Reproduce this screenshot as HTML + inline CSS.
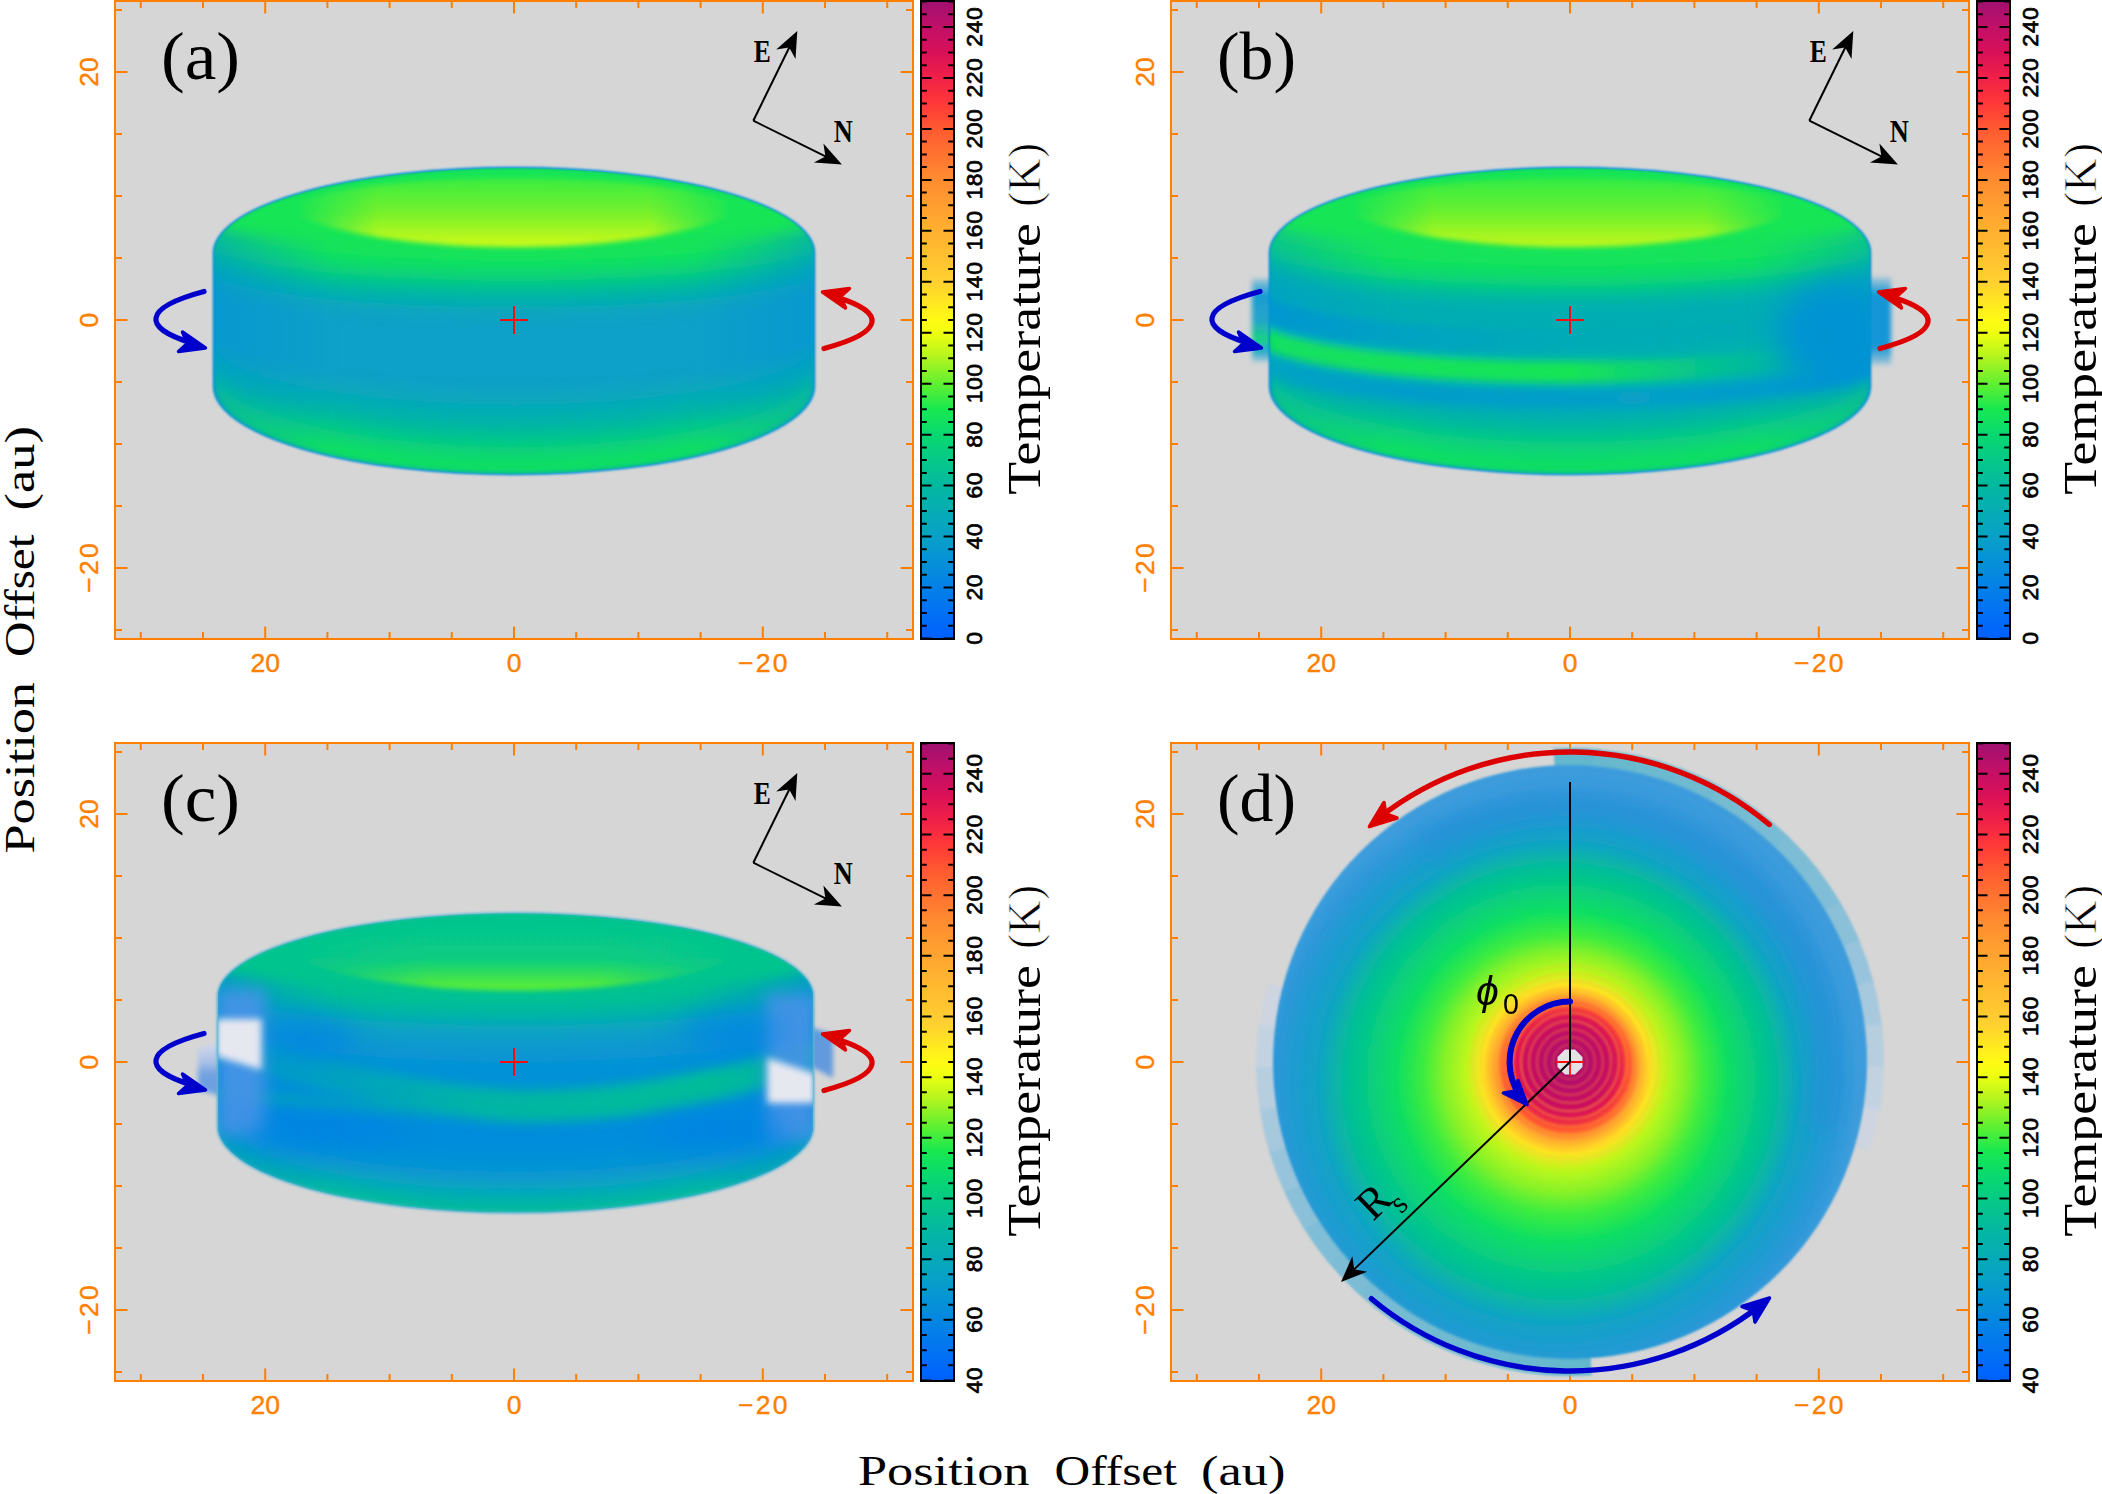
<!DOCTYPE html>
<html><head><meta charset="utf-8"><title>Temperature maps</title>
<style>
html,body{margin:0;padding:0;background:#fff;width:2102px;height:1494px;overflow:hidden;}
svg{display:block;}
text{font-family:"Liberation Sans",sans-serif;}
.tk{font-size:26.5px;fill:#FF7F00;stroke:#FF7F00;stroke-width:0.4px;}
.cb{font-size:22.8px;fill:#000;stroke:#000;stroke-width:0.7px;}
.lab{font-family:"Liberation Serif",serif;font-size:41.5px;fill:#000;}
.thin{stroke:#fff;stroke-width:0.8px;}
.pl{font-family:"Liberation Serif",serif;font-size:67px;fill:#000;}
.lab2{font-family:"Liberation Serif",serif;font-size:45.5px;fill:#000;}
.en{font-family:"Liberation Serif",serif;font-weight:bold;font-size:32px;fill:#000;}
</style></head>
<body>
<svg width="2102" height="1494" viewBox="0 0 2102 1494">
<defs>
<linearGradient id="cbg" x1="0" y1="1" x2="0" y2="0"><stop offset="0.000" stop-color="#0060FF"/><stop offset="0.080" stop-color="#0480E8"/><stop offset="0.160" stop-color="#08A0C8"/><stop offset="0.240" stop-color="#04B8A0"/><stop offset="0.320" stop-color="#08D870"/><stop offset="0.360" stop-color="#18E850"/><stop offset="0.400" stop-color="#60F030"/><stop offset="0.440" stop-color="#B0F420"/><stop offset="0.480" stop-color="#F0FF10"/><stop offset="0.500" stop-color="#FFFA14"/><stop offset="0.560" stop-color="#FFD030"/><stop offset="0.640" stop-color="#FFB030"/><stop offset="0.720" stop-color="#FF8C30"/><stop offset="0.800" stop-color="#FF5A30"/><stop offset="0.840" stop-color="#FF3838"/><stop offset="0.880" stop-color="#F02048"/><stop offset="0.920" stop-color="#D81058"/><stop offset="0.960" stop-color="#C01068"/><stop offset="1.000" stop-color="#A01070"/></linearGradient>
<filter id="b1" filterUnits="userSpaceOnUse" x="-450" y="-360" width="900" height="720"><feGaussianBlur stdDeviation="1.2"/></filter>
<filter id="b2" filterUnits="userSpaceOnUse" x="-450" y="-360" width="900" height="720"><feGaussianBlur stdDeviation="2.5"/></filter>
<filter id="b4" filterUnits="userSpaceOnUse" x="-450" y="-360" width="900" height="720"><feGaussianBlur stdDeviation="4"/></filter>
<filter id="b6" filterUnits="userSpaceOnUse" x="-450" y="-360" width="900" height="720"><feGaussianBlur stdDeviation="6"/></filter>
<filter id="b8" filterUnits="userSpaceOnUse" x="-450" y="-360" width="900" height="720"><feGaussianBlur stdDeviation="8"/></filter>
<filter id="b14" filterUnits="userSpaceOnUse" x="-450" y="-360" width="900" height="720"><feGaussianBlur stdDeviation="14"/></filter>
<filter id="b20" filterUnits="userSpaceOnUse" x="-450" y="-360" width="900" height="720"><feGaussianBlur stdDeviation="20"/></filter>
<clipPath id="tclip"><path d="M-300,-67A300,85 0 0 1 300,-67L300,66A300,88 0 0 1 -300,66Z"/></clipPath>
<linearGradient id="ha" x1="0" y1="-140" x2="0" y2="-73" gradientUnits="userSpaceOnUse"><stop offset="0.0000" stop-color="#3CEC40"/><stop offset="0.5000" stop-color="#78F12B"/><stop offset="1.0000" stop-color="#D0FA18"/></linearGradient>
<linearGradient id="hsa" x1="-213" y1="0" x2="213" y2="0" gradientUnits="userSpaceOnUse"><stop offset="0.0000" stop-color="#15E556" stop-opacity="0.9"/><stop offset="0.1800" stop-color="#15E556" stop-opacity="0.0"/><stop offset="0.8200" stop-color="#15E556" stop-opacity="0.0"/><stop offset="1.0000" stop-color="#15E556" stop-opacity="0.9"/></linearGradient>
<linearGradient id="sda" x1="-300" y1="0" x2="300" y2="0" gradientUnits="userSpaceOnUse"><stop offset="0.0000" stop-color="#0690D8" stop-opacity="0.45"/><stop offset="0.1000" stop-color="#0690D8" stop-opacity="0.225"/><stop offset="0.2000" stop-color="#0690D8" stop-opacity="0"/><stop offset="0.8000" stop-color="#0690D8" stop-opacity="0"/><stop offset="0.9000" stop-color="#0690D8" stop-opacity="0.225"/><stop offset="1.0000" stop-color="#0690D8" stop-opacity="0.45"/></linearGradient>
<linearGradient id="pbL" x1="0" y1="-41" x2="0" y2="42" gradientUnits="userSpaceOnUse"><stop offset="0.0000" stop-color="#0796D2" stop-opacity="0.3"/><stop offset="0.2000" stop-color="#0796D2" stop-opacity="0.9"/><stop offset="0.5000" stop-color="#08A0C8" stop-opacity="0.9"/><stop offset="0.7200" stop-color="#07D27A" stop-opacity="0.9"/><stop offset="0.8800" stop-color="#08A0C8" stop-opacity="0.8"/><stop offset="1.0000" stop-color="#079ACE" stop-opacity="0.2"/></linearGradient>
<linearGradient id="pbR" x1="0" y1="-43" x2="0" y2="45" gradientUnits="userSpaceOnUse"><stop offset="0.0000" stop-color="#0690D8" stop-opacity="0.2"/><stop offset="0.2000" stop-color="#0690D8" stop-opacity="0.9"/><stop offset="0.8000" stop-color="#0690D8" stop-opacity="0.9"/><stop offset="1.0000" stop-color="#0690D8" stop-opacity="0.2"/></linearGradient>
<linearGradient id="hb" x1="0" y1="-140" x2="0" y2="-73" gradientUnits="userSpaceOnUse"><stop offset="0.0000" stop-color="#35EB43"/><stop offset="0.5000" stop-color="#6DF12D"/><stop offset="1.0000" stop-color="#C3F71B"/></linearGradient>
<linearGradient id="hsb" x1="-213" y1="0" x2="213" y2="0" gradientUnits="userSpaceOnUse"><stop offset="0.0000" stop-color="#15E556" stop-opacity="0.9"/><stop offset="0.1800" stop-color="#15E556" stop-opacity="0.0"/><stop offset="0.8200" stop-color="#15E556" stop-opacity="0.0"/><stop offset="1.0000" stop-color="#15E556" stop-opacity="0.9"/></linearGradient>
<linearGradient id="sdb" x1="-300" y1="0" x2="300" y2="0" gradientUnits="userSpaceOnUse"><stop offset="0.0000" stop-color="#0693D5" stop-opacity="0.35"/><stop offset="0.1000" stop-color="#0693D5" stop-opacity="0.175"/><stop offset="0.2000" stop-color="#0693D5" stop-opacity="0"/><stop offset="0.8000" stop-color="#0693D5" stop-opacity="0"/><stop offset="0.9000" stop-color="#0693D5" stop-opacity="0.175"/><stop offset="1.0000" stop-color="#0693D5" stop-opacity="0.35"/></linearGradient>
<linearGradient id="gb" x1="-322" y1="0" x2="322" y2="0" gradientUnits="userSpaceOnUse"><stop offset="0.0000" stop-color="#12E25D" stop-opacity="0.95"/><stop offset="0.5000" stop-color="#18E850" stop-opacity="0.95"/><stop offset="0.6200" stop-color="#12E25D" stop-opacity="0.7"/><stop offset="0.7500" stop-color="#08D575" stop-opacity="0.4"/><stop offset="0.8800" stop-color="#06C888" stop-opacity="0.0"/><stop offset="1.0000" stop-color="#06C888" stop-opacity="0"/></linearGradient>
<linearGradient id="bb" x1="-322" y1="0" x2="322" y2="0" gradientUnits="userSpaceOnUse"><stop offset="0.0000" stop-color="#08A0C8" stop-opacity="0.55"/><stop offset="0.2500" stop-color="#079ACE" stop-opacity="0.85"/><stop offset="0.6000" stop-color="#089DCB" stop-opacity="0.85"/><stop offset="1.0000" stop-color="#0693D5" stop-opacity="0.8"/></linearGradient>
<linearGradient id="ub" x1="-322" y1="0" x2="322" y2="0" gradientUnits="userSpaceOnUse"><stop offset="0.0000" stop-color="#0690D8" stop-opacity="0.75"/><stop offset="0.3000" stop-color="#089DCB" stop-opacity="0.55"/><stop offset="0.5500" stop-color="#07A5C0" stop-opacity="0.2"/><stop offset="1.0000" stop-color="#08A0C8" stop-opacity="0"/></linearGradient>
<linearGradient id="pcL" x1="0" y1="-20" x2="0" y2="34" gradientUnits="userSpaceOnUse"><stop offset="0.0000" stop-color="#D2DAEE"/><stop offset="0.3500" stop-color="#A8C0EA"/><stop offset="0.6000" stop-color="#5E98E4"/><stop offset="1.0000" stop-color="#5A96E4"/></linearGradient>
<linearGradient id="hc" x1="0" y1="-140" x2="0" y2="-73" gradientUnits="userSpaceOnUse"><stop offset="0.0000" stop-color="#06C58D"/><stop offset="0.5000" stop-color="#07CC82"/><stop offset="1.0000" stop-color="#60F030"/></linearGradient>
<linearGradient id="hsc" x1="-213" y1="0" x2="213" y2="0" gradientUnits="userSpaceOnUse"><stop offset="0.0000" stop-color="#06C58D" stop-opacity="0.9"/><stop offset="0.3000" stop-color="#06C58D" stop-opacity="0.0"/><stop offset="0.7000" stop-color="#06C58D" stop-opacity="0.0"/><stop offset="1.0000" stop-color="#06C58D" stop-opacity="0.9"/></linearGradient>
<linearGradient id="sdc" x1="-300" y1="0" x2="300" y2="0" gradientUnits="userSpaceOnUse"><stop offset="0.0000" stop-color="#0482E6" stop-opacity="0.5"/><stop offset="0.1000" stop-color="#0482E6" stop-opacity="0.25"/><stop offset="0.2000" stop-color="#0482E6" stop-opacity="0"/><stop offset="0.8000" stop-color="#0482E6" stop-opacity="0"/><stop offset="0.9000" stop-color="#0482E6" stop-opacity="0.25"/><stop offset="1.0000" stop-color="#0482E6" stop-opacity="0.5"/></linearGradient>
<linearGradient id="c1" x1="-322" y1="0" x2="322" y2="0" gradientUnits="userSpaceOnUse"><stop offset="0.0000" stop-color="#05B2AA" stop-opacity="0.25"/><stop offset="0.2500" stop-color="#05B5A6" stop-opacity="0.5"/><stop offset="0.4500" stop-color="#04B7A1" stop-opacity="0.95"/><stop offset="0.8000" stop-color="#05BD99" stop-opacity="1.0"/><stop offset="0.9200" stop-color="#04BB9B" stop-opacity="0.8"/><stop offset="1.0000" stop-color="#04B7A1" stop-opacity="0.5"/></linearGradient>
<linearGradient id="c2" x1="-322" y1="0" x2="322" y2="0" gradientUnits="userSpaceOnUse"><stop offset="0.0000" stop-color="#06A9B9" stop-opacity="0.0"/><stop offset="0.0600" stop-color="#06AFAF" stop-opacity="0.6"/><stop offset="0.3000" stop-color="#05B5A6" stop-opacity="0.6"/><stop offset="0.4200" stop-color="#05B5A6" stop-opacity="0.0"/><stop offset="1.0000" stop-color="#05B5A6" stop-opacity="0"/></linearGradient>
<radialGradient id="dg" gradientUnits="userSpaceOnUse" cx="-14" cy="26" r="300" fx="0" fy="0"><stop offset="0.0000" stop-color="#A8106E"/><stop offset="0.0400" stop-color="#AF106C"/><stop offset="0.1000" stop-color="#BE1068"/><stop offset="0.1400" stop-color="#CA1061"/><stop offset="0.1733" stop-color="#E11652"/><stop offset="0.2067" stop-color="#FF5232"/><stop offset="0.2400" stop-color="#FFA430"/><stop offset="0.2800" stop-color="#FFE324"/><stop offset="0.3333" stop-color="#BCF61D"/><stop offset="0.4000" stop-color="#86F228"/><stop offset="0.4667" stop-color="#3EEC3F"/><stop offset="0.5500" stop-color="#0FDF62"/><stop offset="0.6333" stop-color="#07CE7F"/><stop offset="0.7167" stop-color="#05BD99"/><stop offset="0.8000" stop-color="#10A4C4"/><stop offset="0.8733" stop-color="#1C9CD0"/><stop offset="0.9400" stop-color="#2C98D8"/><stop offset="1.0000" stop-color="#3C9CDC"/></radialGradient>
</defs>
<rect width="2102" height="1494" fill="#fff"/>
<rect x="115" y="1" width="798" height="638" fill="#D6D6D6"/>
<g id="vol_a"><!--VOL_a--></g>
<rect x="115" y="1" width="798" height="638" fill="none" stroke="#FF7F00" stroke-width="2"/>
<path d="M887.2,1v7M887.2,639v-7M825.0,1v7M825.0,639v-7M762.8,1v12.5M762.8,639v-12.5M700.6,1v7M700.6,639v-7M638.4,1v7M638.4,639v-7M576.2,1v7M576.2,639v-7M514.0,1v12.5M514.0,639v-12.5M451.8,1v7M451.8,639v-7M389.6,1v7M389.6,639v-7M327.4,1v7M327.4,639v-7M265.2,1v12.5M265.2,639v-12.5M203.0,1v7M203.0,639v-7M140.8,1v7M140.8,639v-7M115,630.0h7M913,630.0h-7M115,568.0h12.5M913,568.0h-12.5M115,506.0h7M913,506.0h-7M115,444.0h7M913,444.0h-7M115,382.0h7M913,382.0h-7M115,320.0h12.5M913,320.0h-12.5M115,258.0h7M913,258.0h-7M115,196.0h7M913,196.0h-7M115,134.0h7M913,134.0h-7M115,72.0h12.5M913,72.0h-12.5M115,10.0h7M913,10.0h-7" stroke="#FF7F00" stroke-width="2" fill="none"/>
<text x="265.2" y="671.5" class="tk" text-anchor="middle" textLength="29.5" lengthAdjust="spacing">20</text>
<text transform="translate(98,72.0) rotate(-90)" class="tk" text-anchor="middle" textLength="29.5" lengthAdjust="spacing">20</text>
<text x="514.0" y="671.5" class="tk" text-anchor="middle" textLength="14.7" lengthAdjust="spacing">0</text>
<text transform="translate(98,320.0) rotate(-90)" class="tk" text-anchor="middle" textLength="14.7" lengthAdjust="spacing">0</text>
<text x="762.8" y="671.5" class="tk" text-anchor="middle" textLength="49.5" lengthAdjust="spacing">−20</text>
<text transform="translate(98,568.0) rotate(-90)" class="tk" text-anchor="middle" textLength="49.5" lengthAdjust="spacing">−20</text>
<rect x="921" y="1" width="33" height="638" fill="url(#cbg)" stroke="#000" stroke-width="2"/>
<path d="M920,638.5h11.5M955,638.5h-11.5M920,625.8h6.8M955,625.8h-6.8M920,613.0h6.8M955,613.0h-6.8M920,600.3h6.8M955,600.3h-6.8M920,587.5h11.5M955,587.5h-11.5M920,574.8h6.8M955,574.8h-6.8M920,562.1h6.8M955,562.1h-6.8M920,549.3h6.8M955,549.3h-6.8M920,536.6h11.5M955,536.6h-11.5M920,523.8h6.8M955,523.8h-6.8M920,511.1h6.8M955,511.1h-6.8M920,498.4h6.8M955,498.4h-6.8M920,485.6h11.5M955,485.6h-11.5M920,472.9h6.8M955,472.9h-6.8M920,460.1h6.8M955,460.1h-6.8M920,447.4h6.8M955,447.4h-6.8M920,434.7h11.5M955,434.7h-11.5M920,421.9h6.8M955,421.9h-6.8M920,409.2h6.8M955,409.2h-6.8M920,396.4h6.8M955,396.4h-6.8M920,383.7h11.5M955,383.7h-11.5M920,371.0h6.8M955,371.0h-6.8M920,358.2h6.8M955,358.2h-6.8M920,345.5h6.8M955,345.5h-6.8M920,332.7h11.5M955,332.7h-11.5M920,320.0h6.8M955,320.0h-6.8M920,307.3h6.8M955,307.3h-6.8M920,294.5h6.8M955,294.5h-6.8M920,281.8h11.5M955,281.8h-11.5M920,269.0h6.8M955,269.0h-6.8M920,256.3h6.8M955,256.3h-6.8M920,243.6h6.8M955,243.6h-6.8M920,230.8h11.5M955,230.8h-11.5M920,218.1h6.8M955,218.1h-6.8M920,205.3h6.8M955,205.3h-6.8M920,192.6h6.8M955,192.6h-6.8M920,179.9h11.5M955,179.9h-11.5M920,167.1h6.8M955,167.1h-6.8M920,154.4h6.8M955,154.4h-6.8M920,141.6h6.8M955,141.6h-6.8M920,128.9h11.5M955,128.9h-11.5M920,116.2h6.8M955,116.2h-6.8M920,103.4h6.8M955,103.4h-6.8M920,90.7h6.8M955,90.7h-6.8M920,77.9h11.5M955,77.9h-11.5M920,65.2h6.8M955,65.2h-6.8M920,52.5h6.8M955,52.5h-6.8M920,39.7h6.8M955,39.7h-6.8M920,27.0h11.5M955,27.0h-11.5M920,14.2h6.8M955,14.2h-6.8M920,1.5h6.8M955,1.5h-6.8" stroke="#000" stroke-width="2" fill="none"/>
<text transform="translate(982,638.5) rotate(-90)" class="cb" text-anchor="middle" textLength="12.7" lengthAdjust="spacing">0</text>
<text transform="translate(982,587.5) rotate(-90)" class="cb" text-anchor="middle" textLength="26" lengthAdjust="spacing">20</text>
<text transform="translate(982,536.6) rotate(-90)" class="cb" text-anchor="middle" textLength="26" lengthAdjust="spacing">40</text>
<text transform="translate(982,485.6) rotate(-90)" class="cb" text-anchor="middle" textLength="26" lengthAdjust="spacing">60</text>
<text transform="translate(982,434.7) rotate(-90)" class="cb" text-anchor="middle" textLength="26" lengthAdjust="spacing">80</text>
<text transform="translate(982,383.7) rotate(-90)" class="cb" text-anchor="middle" textLength="39.3" lengthAdjust="spacing">100</text>
<text transform="translate(982,332.7) rotate(-90)" class="cb" text-anchor="middle" textLength="39.3" lengthAdjust="spacing">120</text>
<text transform="translate(982,281.8) rotate(-90)" class="cb" text-anchor="middle" textLength="39.3" lengthAdjust="spacing">140</text>
<text transform="translate(982,230.8) rotate(-90)" class="cb" text-anchor="middle" textLength="39.3" lengthAdjust="spacing">160</text>
<text transform="translate(982,179.9) rotate(-90)" class="cb" text-anchor="middle" textLength="39.3" lengthAdjust="spacing">180</text>
<text transform="translate(982,128.9) rotate(-90)" class="cb" text-anchor="middle" textLength="39.3" lengthAdjust="spacing">200</text>
<text transform="translate(982,77.9) rotate(-90)" class="cb" text-anchor="middle" textLength="39.3" lengthAdjust="spacing">220</text>
<text transform="translate(982,27.0) rotate(-90)" class="cb" text-anchor="middle" textLength="39.3" lengthAdjust="spacing">240</text>
<g transform="translate(1039.5,320) rotate(-90)"><text x="-174.8" y="0" class="lab2" textLength="271.8" lengthAdjust="spacingAndGlyphs">Temperature</text><text x="113" y="0" class="lab2 thin" textLength="64" lengthAdjust="spacingAndGlyphs">(K)</text></g>
<text x="161" y="78.5" class="pl" textLength="79" lengthAdjust="spacingAndGlyphs">(a)</text>
<rect x="1171" y="1" width="798" height="638" fill="#D6D6D6"/>
<g id="vol_b"><!--VOL_b--></g>
<rect x="1171" y="1" width="798" height="638" fill="none" stroke="#FF7F00" stroke-width="2"/>
<path d="M1943.2,1v7M1943.2,639v-7M1881.0,1v7M1881.0,639v-7M1818.8,1v12.5M1818.8,639v-12.5M1756.6,1v7M1756.6,639v-7M1694.4,1v7M1694.4,639v-7M1632.2,1v7M1632.2,639v-7M1570.0,1v12.5M1570.0,639v-12.5M1507.8,1v7M1507.8,639v-7M1445.6,1v7M1445.6,639v-7M1383.4,1v7M1383.4,639v-7M1321.2,1v12.5M1321.2,639v-12.5M1259.0,1v7M1259.0,639v-7M1196.8,1v7M1196.8,639v-7M1171,630.0h7M1969,630.0h-7M1171,568.0h12.5M1969,568.0h-12.5M1171,506.0h7M1969,506.0h-7M1171,444.0h7M1969,444.0h-7M1171,382.0h7M1969,382.0h-7M1171,320.0h12.5M1969,320.0h-12.5M1171,258.0h7M1969,258.0h-7M1171,196.0h7M1969,196.0h-7M1171,134.0h7M1969,134.0h-7M1171,72.0h12.5M1969,72.0h-12.5M1171,10.0h7M1969,10.0h-7" stroke="#FF7F00" stroke-width="2" fill="none"/>
<text x="1321.2" y="671.5" class="tk" text-anchor="middle" textLength="29.5" lengthAdjust="spacing">20</text>
<text transform="translate(1154,72.0) rotate(-90)" class="tk" text-anchor="middle" textLength="29.5" lengthAdjust="spacing">20</text>
<text x="1570.0" y="671.5" class="tk" text-anchor="middle" textLength="14.7" lengthAdjust="spacing">0</text>
<text transform="translate(1154,320.0) rotate(-90)" class="tk" text-anchor="middle" textLength="14.7" lengthAdjust="spacing">0</text>
<text x="1818.8" y="671.5" class="tk" text-anchor="middle" textLength="49.5" lengthAdjust="spacing">−20</text>
<text transform="translate(1154,568.0) rotate(-90)" class="tk" text-anchor="middle" textLength="49.5" lengthAdjust="spacing">−20</text>
<rect x="1977" y="1" width="33" height="638" fill="url(#cbg)" stroke="#000" stroke-width="2"/>
<path d="M1976,638.5h11.5M2011,638.5h-11.5M1976,625.8h6.8M2011,625.8h-6.8M1976,613.0h6.8M2011,613.0h-6.8M1976,600.3h6.8M2011,600.3h-6.8M1976,587.5h11.5M2011,587.5h-11.5M1976,574.8h6.8M2011,574.8h-6.8M1976,562.1h6.8M2011,562.1h-6.8M1976,549.3h6.8M2011,549.3h-6.8M1976,536.6h11.5M2011,536.6h-11.5M1976,523.8h6.8M2011,523.8h-6.8M1976,511.1h6.8M2011,511.1h-6.8M1976,498.4h6.8M2011,498.4h-6.8M1976,485.6h11.5M2011,485.6h-11.5M1976,472.9h6.8M2011,472.9h-6.8M1976,460.1h6.8M2011,460.1h-6.8M1976,447.4h6.8M2011,447.4h-6.8M1976,434.7h11.5M2011,434.7h-11.5M1976,421.9h6.8M2011,421.9h-6.8M1976,409.2h6.8M2011,409.2h-6.8M1976,396.4h6.8M2011,396.4h-6.8M1976,383.7h11.5M2011,383.7h-11.5M1976,371.0h6.8M2011,371.0h-6.8M1976,358.2h6.8M2011,358.2h-6.8M1976,345.5h6.8M2011,345.5h-6.8M1976,332.7h11.5M2011,332.7h-11.5M1976,320.0h6.8M2011,320.0h-6.8M1976,307.3h6.8M2011,307.3h-6.8M1976,294.5h6.8M2011,294.5h-6.8M1976,281.8h11.5M2011,281.8h-11.5M1976,269.0h6.8M2011,269.0h-6.8M1976,256.3h6.8M2011,256.3h-6.8M1976,243.6h6.8M2011,243.6h-6.8M1976,230.8h11.5M2011,230.8h-11.5M1976,218.1h6.8M2011,218.1h-6.8M1976,205.3h6.8M2011,205.3h-6.8M1976,192.6h6.8M2011,192.6h-6.8M1976,179.9h11.5M2011,179.9h-11.5M1976,167.1h6.8M2011,167.1h-6.8M1976,154.4h6.8M2011,154.4h-6.8M1976,141.6h6.8M2011,141.6h-6.8M1976,128.9h11.5M2011,128.9h-11.5M1976,116.2h6.8M2011,116.2h-6.8M1976,103.4h6.8M2011,103.4h-6.8M1976,90.7h6.8M2011,90.7h-6.8M1976,77.9h11.5M2011,77.9h-11.5M1976,65.2h6.8M2011,65.2h-6.8M1976,52.5h6.8M2011,52.5h-6.8M1976,39.7h6.8M2011,39.7h-6.8M1976,27.0h11.5M2011,27.0h-11.5M1976,14.2h6.8M2011,14.2h-6.8M1976,1.5h6.8M2011,1.5h-6.8" stroke="#000" stroke-width="2" fill="none"/>
<text transform="translate(2038,638.5) rotate(-90)" class="cb" text-anchor="middle" textLength="12.7" lengthAdjust="spacing">0</text>
<text transform="translate(2038,587.5) rotate(-90)" class="cb" text-anchor="middle" textLength="26" lengthAdjust="spacing">20</text>
<text transform="translate(2038,536.6) rotate(-90)" class="cb" text-anchor="middle" textLength="26" lengthAdjust="spacing">40</text>
<text transform="translate(2038,485.6) rotate(-90)" class="cb" text-anchor="middle" textLength="26" lengthAdjust="spacing">60</text>
<text transform="translate(2038,434.7) rotate(-90)" class="cb" text-anchor="middle" textLength="26" lengthAdjust="spacing">80</text>
<text transform="translate(2038,383.7) rotate(-90)" class="cb" text-anchor="middle" textLength="39.3" lengthAdjust="spacing">100</text>
<text transform="translate(2038,332.7) rotate(-90)" class="cb" text-anchor="middle" textLength="39.3" lengthAdjust="spacing">120</text>
<text transform="translate(2038,281.8) rotate(-90)" class="cb" text-anchor="middle" textLength="39.3" lengthAdjust="spacing">140</text>
<text transform="translate(2038,230.8) rotate(-90)" class="cb" text-anchor="middle" textLength="39.3" lengthAdjust="spacing">160</text>
<text transform="translate(2038,179.9) rotate(-90)" class="cb" text-anchor="middle" textLength="39.3" lengthAdjust="spacing">180</text>
<text transform="translate(2038,128.9) rotate(-90)" class="cb" text-anchor="middle" textLength="39.3" lengthAdjust="spacing">200</text>
<text transform="translate(2038,77.9) rotate(-90)" class="cb" text-anchor="middle" textLength="39.3" lengthAdjust="spacing">220</text>
<text transform="translate(2038,27.0) rotate(-90)" class="cb" text-anchor="middle" textLength="39.3" lengthAdjust="spacing">240</text>
<g transform="translate(2095.5,320) rotate(-90)"><text x="-174.8" y="0" class="lab2" textLength="271.8" lengthAdjust="spacingAndGlyphs">Temperature</text><text x="113" y="0" class="lab2 thin" textLength="64" lengthAdjust="spacingAndGlyphs">(K)</text></g>
<text x="1217" y="78.5" class="pl" textLength="79" lengthAdjust="spacingAndGlyphs">(b)</text>
<rect x="115" y="743" width="798" height="638" fill="#D6D6D6"/>
<g id="vol_c"><!--VOL_c--></g>
<rect x="115" y="743" width="798" height="638" fill="none" stroke="#FF7F00" stroke-width="2"/>
<path d="M887.2,743v7M887.2,1381v-7M825.0,743v7M825.0,1381v-7M762.8,743v12.5M762.8,1381v-12.5M700.6,743v7M700.6,1381v-7M638.4,743v7M638.4,1381v-7M576.2,743v7M576.2,1381v-7M514.0,743v12.5M514.0,1381v-12.5M451.8,743v7M451.8,1381v-7M389.6,743v7M389.6,1381v-7M327.4,743v7M327.4,1381v-7M265.2,743v12.5M265.2,1381v-12.5M203.0,743v7M203.0,1381v-7M140.8,743v7M140.8,1381v-7M115,1372.0h7M913,1372.0h-7M115,1310.0h12.5M913,1310.0h-12.5M115,1248.0h7M913,1248.0h-7M115,1186.0h7M913,1186.0h-7M115,1124.0h7M913,1124.0h-7M115,1062.0h12.5M913,1062.0h-12.5M115,1000.0h7M913,1000.0h-7M115,938.0h7M913,938.0h-7M115,876.0h7M913,876.0h-7M115,814.0h12.5M913,814.0h-12.5M115,752.0h7M913,752.0h-7" stroke="#FF7F00" stroke-width="2" fill="none"/>
<text x="265.2" y="1413.5" class="tk" text-anchor="middle" textLength="29.5" lengthAdjust="spacing">20</text>
<text transform="translate(98,814.0) rotate(-90)" class="tk" text-anchor="middle" textLength="29.5" lengthAdjust="spacing">20</text>
<text x="514.0" y="1413.5" class="tk" text-anchor="middle" textLength="14.7" lengthAdjust="spacing">0</text>
<text transform="translate(98,1062.0) rotate(-90)" class="tk" text-anchor="middle" textLength="14.7" lengthAdjust="spacing">0</text>
<text x="762.8" y="1413.5" class="tk" text-anchor="middle" textLength="49.5" lengthAdjust="spacing">−20</text>
<text transform="translate(98,1310.0) rotate(-90)" class="tk" text-anchor="middle" textLength="49.5" lengthAdjust="spacing">−20</text>
<rect x="921" y="743" width="33" height="638" fill="url(#cbg)" stroke="#000" stroke-width="2"/>
<path d="M920,1380.5h11.5M955,1380.5h-11.5M920,1365.3h6.8M955,1365.3h-6.8M920,1350.2h6.8M955,1350.2h-6.8M920,1335.0h6.8M955,1335.0h-6.8M920,1319.8h11.5M955,1319.8h-11.5M920,1304.7h6.8M955,1304.7h-6.8M920,1289.5h6.8M955,1289.5h-6.8M920,1274.3h6.8M955,1274.3h-6.8M920,1259.2h11.5M955,1259.2h-11.5M920,1244.0h6.8M955,1244.0h-6.8M920,1228.8h6.8M955,1228.8h-6.8M920,1213.7h6.8M955,1213.7h-6.8M920,1198.5h11.5M955,1198.5h-11.5M920,1183.3h6.8M955,1183.3h-6.8M920,1168.2h6.8M955,1168.2h-6.8M920,1153.0h6.8M955,1153.0h-6.8M920,1137.8h11.5M955,1137.8h-11.5M920,1122.7h6.8M955,1122.7h-6.8M920,1107.5h6.8M955,1107.5h-6.8M920,1092.3h6.8M955,1092.3h-6.8M920,1077.2h11.5M955,1077.2h-11.5M920,1062.0h6.8M955,1062.0h-6.8M920,1046.8h6.8M955,1046.8h-6.8M920,1031.7h6.8M955,1031.7h-6.8M920,1016.5h11.5M955,1016.5h-11.5M920,1001.3h6.8M955,1001.3h-6.8M920,986.2h6.8M955,986.2h-6.8M920,971.0h6.8M955,971.0h-6.8M920,955.8h11.5M955,955.8h-11.5M920,940.7h6.8M955,940.7h-6.8M920,925.5h6.8M955,925.5h-6.8M920,910.3h6.8M955,910.3h-6.8M920,895.2h11.5M955,895.2h-11.5M920,880.0h6.8M955,880.0h-6.8M920,864.8h6.8M955,864.8h-6.8M920,849.7h6.8M955,849.7h-6.8M920,834.5h11.5M955,834.5h-11.5M920,819.3h6.8M955,819.3h-6.8M920,804.2h6.8M955,804.2h-6.8M920,789.0h6.8M955,789.0h-6.8M920,773.8h11.5M955,773.8h-11.5M920,758.7h6.8M955,758.7h-6.8M920,743.5h6.8M955,743.5h-6.8" stroke="#000" stroke-width="2" fill="none"/>
<text transform="translate(982,1380.5) rotate(-90)" class="cb" text-anchor="middle" textLength="26" lengthAdjust="spacing">40</text>
<text transform="translate(982,1319.8) rotate(-90)" class="cb" text-anchor="middle" textLength="26" lengthAdjust="spacing">60</text>
<text transform="translate(982,1259.2) rotate(-90)" class="cb" text-anchor="middle" textLength="26" lengthAdjust="spacing">80</text>
<text transform="translate(982,1198.5) rotate(-90)" class="cb" text-anchor="middle" textLength="39.3" lengthAdjust="spacing">100</text>
<text transform="translate(982,1137.8) rotate(-90)" class="cb" text-anchor="middle" textLength="39.3" lengthAdjust="spacing">120</text>
<text transform="translate(982,1077.2) rotate(-90)" class="cb" text-anchor="middle" textLength="39.3" lengthAdjust="spacing">140</text>
<text transform="translate(982,1016.5) rotate(-90)" class="cb" text-anchor="middle" textLength="39.3" lengthAdjust="spacing">160</text>
<text transform="translate(982,955.8) rotate(-90)" class="cb" text-anchor="middle" textLength="39.3" lengthAdjust="spacing">180</text>
<text transform="translate(982,895.2) rotate(-90)" class="cb" text-anchor="middle" textLength="39.3" lengthAdjust="spacing">200</text>
<text transform="translate(982,834.5) rotate(-90)" class="cb" text-anchor="middle" textLength="39.3" lengthAdjust="spacing">220</text>
<text transform="translate(982,773.8) rotate(-90)" class="cb" text-anchor="middle" textLength="39.3" lengthAdjust="spacing">240</text>
<g transform="translate(1039.5,1062) rotate(-90)"><text x="-174.8" y="0" class="lab2" textLength="271.8" lengthAdjust="spacingAndGlyphs">Temperature</text><text x="113" y="0" class="lab2 thin" textLength="64" lengthAdjust="spacingAndGlyphs">(K)</text></g>
<text x="161" y="820.5" class="pl" textLength="79" lengthAdjust="spacingAndGlyphs">(c)</text>
<rect x="1171" y="743" width="798" height="638" fill="#D6D6D6"/>
<g id="vol_d"><!--VOL_d--></g>
<rect x="1171" y="743" width="798" height="638" fill="none" stroke="#FF7F00" stroke-width="2"/>
<path d="M1943.2,743v7M1943.2,1381v-7M1881.0,743v7M1881.0,1381v-7M1818.8,743v12.5M1818.8,1381v-12.5M1756.6,743v7M1756.6,1381v-7M1694.4,743v7M1694.4,1381v-7M1632.2,743v7M1632.2,1381v-7M1570.0,743v12.5M1570.0,1381v-12.5M1507.8,743v7M1507.8,1381v-7M1445.6,743v7M1445.6,1381v-7M1383.4,743v7M1383.4,1381v-7M1321.2,743v12.5M1321.2,1381v-12.5M1259.0,743v7M1259.0,1381v-7M1196.8,743v7M1196.8,1381v-7M1171,1372.0h7M1969,1372.0h-7M1171,1310.0h12.5M1969,1310.0h-12.5M1171,1248.0h7M1969,1248.0h-7M1171,1186.0h7M1969,1186.0h-7M1171,1124.0h7M1969,1124.0h-7M1171,1062.0h12.5M1969,1062.0h-12.5M1171,1000.0h7M1969,1000.0h-7M1171,938.0h7M1969,938.0h-7M1171,876.0h7M1969,876.0h-7M1171,814.0h12.5M1969,814.0h-12.5M1171,752.0h7M1969,752.0h-7" stroke="#FF7F00" stroke-width="2" fill="none"/>
<text x="1321.2" y="1413.5" class="tk" text-anchor="middle" textLength="29.5" lengthAdjust="spacing">20</text>
<text transform="translate(1154,814.0) rotate(-90)" class="tk" text-anchor="middle" textLength="29.5" lengthAdjust="spacing">20</text>
<text x="1570.0" y="1413.5" class="tk" text-anchor="middle" textLength="14.7" lengthAdjust="spacing">0</text>
<text transform="translate(1154,1062.0) rotate(-90)" class="tk" text-anchor="middle" textLength="14.7" lengthAdjust="spacing">0</text>
<text x="1818.8" y="1413.5" class="tk" text-anchor="middle" textLength="49.5" lengthAdjust="spacing">−20</text>
<text transform="translate(1154,1310.0) rotate(-90)" class="tk" text-anchor="middle" textLength="49.5" lengthAdjust="spacing">−20</text>
<rect x="1977" y="743" width="33" height="638" fill="url(#cbg)" stroke="#000" stroke-width="2"/>
<path d="M1976,1380.5h11.5M2011,1380.5h-11.5M1976,1365.3h6.8M2011,1365.3h-6.8M1976,1350.2h6.8M2011,1350.2h-6.8M1976,1335.0h6.8M2011,1335.0h-6.8M1976,1319.8h11.5M2011,1319.8h-11.5M1976,1304.7h6.8M2011,1304.7h-6.8M1976,1289.5h6.8M2011,1289.5h-6.8M1976,1274.3h6.8M2011,1274.3h-6.8M1976,1259.2h11.5M2011,1259.2h-11.5M1976,1244.0h6.8M2011,1244.0h-6.8M1976,1228.8h6.8M2011,1228.8h-6.8M1976,1213.7h6.8M2011,1213.7h-6.8M1976,1198.5h11.5M2011,1198.5h-11.5M1976,1183.3h6.8M2011,1183.3h-6.8M1976,1168.2h6.8M2011,1168.2h-6.8M1976,1153.0h6.8M2011,1153.0h-6.8M1976,1137.8h11.5M2011,1137.8h-11.5M1976,1122.7h6.8M2011,1122.7h-6.8M1976,1107.5h6.8M2011,1107.5h-6.8M1976,1092.3h6.8M2011,1092.3h-6.8M1976,1077.2h11.5M2011,1077.2h-11.5M1976,1062.0h6.8M2011,1062.0h-6.8M1976,1046.8h6.8M2011,1046.8h-6.8M1976,1031.7h6.8M2011,1031.7h-6.8M1976,1016.5h11.5M2011,1016.5h-11.5M1976,1001.3h6.8M2011,1001.3h-6.8M1976,986.2h6.8M2011,986.2h-6.8M1976,971.0h6.8M2011,971.0h-6.8M1976,955.8h11.5M2011,955.8h-11.5M1976,940.7h6.8M2011,940.7h-6.8M1976,925.5h6.8M2011,925.5h-6.8M1976,910.3h6.8M2011,910.3h-6.8M1976,895.2h11.5M2011,895.2h-11.5M1976,880.0h6.8M2011,880.0h-6.8M1976,864.8h6.8M2011,864.8h-6.8M1976,849.7h6.8M2011,849.7h-6.8M1976,834.5h11.5M2011,834.5h-11.5M1976,819.3h6.8M2011,819.3h-6.8M1976,804.2h6.8M2011,804.2h-6.8M1976,789.0h6.8M2011,789.0h-6.8M1976,773.8h11.5M2011,773.8h-11.5M1976,758.7h6.8M2011,758.7h-6.8M1976,743.5h6.8M2011,743.5h-6.8" stroke="#000" stroke-width="2" fill="none"/>
<text transform="translate(2038,1380.5) rotate(-90)" class="cb" text-anchor="middle" textLength="26" lengthAdjust="spacing">40</text>
<text transform="translate(2038,1319.8) rotate(-90)" class="cb" text-anchor="middle" textLength="26" lengthAdjust="spacing">60</text>
<text transform="translate(2038,1259.2) rotate(-90)" class="cb" text-anchor="middle" textLength="26" lengthAdjust="spacing">80</text>
<text transform="translate(2038,1198.5) rotate(-90)" class="cb" text-anchor="middle" textLength="39.3" lengthAdjust="spacing">100</text>
<text transform="translate(2038,1137.8) rotate(-90)" class="cb" text-anchor="middle" textLength="39.3" lengthAdjust="spacing">120</text>
<text transform="translate(2038,1077.2) rotate(-90)" class="cb" text-anchor="middle" textLength="39.3" lengthAdjust="spacing">140</text>
<text transform="translate(2038,1016.5) rotate(-90)" class="cb" text-anchor="middle" textLength="39.3" lengthAdjust="spacing">160</text>
<text transform="translate(2038,955.8) rotate(-90)" class="cb" text-anchor="middle" textLength="39.3" lengthAdjust="spacing">180</text>
<text transform="translate(2038,895.2) rotate(-90)" class="cb" text-anchor="middle" textLength="39.3" lengthAdjust="spacing">200</text>
<text transform="translate(2038,834.5) rotate(-90)" class="cb" text-anchor="middle" textLength="39.3" lengthAdjust="spacing">220</text>
<text transform="translate(2038,773.8) rotate(-90)" class="cb" text-anchor="middle" textLength="39.3" lengthAdjust="spacing">240</text>
<g transform="translate(2095.5,1062) rotate(-90)"><text x="-174.8" y="0" class="lab2" textLength="271.8" lengthAdjust="spacingAndGlyphs">Temperature</text><text x="113" y="0" class="lab2 thin" textLength="64" lengthAdjust="spacingAndGlyphs">(K)</text></g>
<text x="1217" y="820.5" class="pl" textLength="79" lengthAdjust="spacingAndGlyphs">(d)</text>
<g transform="translate(858,1485)"><text x="0" y="0" class="lab" textLength="171.5" lengthAdjust="spacingAndGlyphs">Position</text><text x="196.5" y="0" class="lab" textLength="122.5" lengthAdjust="spacingAndGlyphs">Offset</text><text x="343" y="0" class="lab" textLength="84.5" lengthAdjust="spacingAndGlyphs">(au)</text></g>
<g transform="translate(33.5,853.5) rotate(-90)"><text x="0" y="0" class="lab" textLength="171.5" lengthAdjust="spacingAndGlyphs">Position</text><text x="196.5" y="0" class="lab" textLength="122.5" lengthAdjust="spacingAndGlyphs">Offset</text><text x="343" y="0" class="lab" textLength="84.5" lengthAdjust="spacingAndGlyphs">(au)</text></g>
<g transform="translate(514,320)">
<path d="M-300,-67A300,85 0 0 1 300,-67L300,66A300,88 0 0 1 -300,66Z" fill="#0690D8" stroke="#0690D8" stroke-width="3" stroke-opacity="0.6" filter="url(#b1)"/>
<g clip-path="url(#tclip)">
<g filter="url(#b4)"><path d="M-300.0,-200L-300.0,68.0A300.0,88.0 0 0 0 300.0,68.0L300.0,-200Z" fill="#12E25D"/><path d="M-300.4,-200L-300.4,63.8A300.4,87.2 0 0 0 300.4,63.8L300.4,-200Z" fill="#0FDF61"/><path d="M-301.1,-200L-301.1,60.1A301.1,85.9 0 0 0 301.1,60.1L301.1,-200Z" fill="#0DDD66"/><path d="M-301.7,-200L-301.7,56.4A301.7,84.6 0 0 0 301.7,56.4L301.7,-200Z" fill="#0ADA6C"/><path d="M-302.4,-200L-302.4,52.7A302.4,83.3 0 0 0 302.4,52.7L302.4,-200Z" fill="#08D475"/><path d="M-303.1,-200L-303.1,49.0A303.1,82.0 0 0 0 303.1,49.0L303.1,-200Z" fill="#07CF7E"/><path d="M-303.8,-200L-303.8,45.3A303.8,80.7 0 0 0 303.8,45.3L303.8,-200Z" fill="#06C986"/><path d="M-304.4,-200L-304.4,41.7A304.4,79.3 0 0 0 304.4,41.7L304.4,-200Z" fill="#05C48F"/><path d="M-305.1,-200L-305.1,38.0A305.1,78.0 0 0 0 305.1,38.0L305.1,-200Z" fill="#05BE97"/><path d="M-305.8,-200L-305.8,34.3A305.8,76.7 0 0 0 305.8,34.3L305.8,-200Z" fill="#04B8A0"/><path d="M-306.4,-200L-306.4,30.6A306.4,75.4 0 0 0 306.4,30.6L306.4,-200Z" fill="#05B4A7"/><path d="M-307.1,-200L-307.1,26.9A307.1,74.1 0 0 0 307.1,26.9L307.1,-200Z" fill="#05B1AC"/><path d="M-307.8,-200L-307.8,23.2A307.8,72.8 0 0 0 307.8,23.2L307.8,-200Z" fill="#06AEB1"/><path d="M-308.5,-200L-308.5,19.5A308.5,71.5 0 0 0 308.5,19.5L308.5,-200Z" fill="#06ABB6"/><path d="M-309.1,-200L-309.1,15.8A309.1,70.2 0 0 0 309.1,15.8L309.1,-200Z" fill="#07A8BB"/><path d="M-309.8,-200L-309.8,12.1A309.8,68.9 0 0 0 309.8,12.1L309.8,-200Z" fill="#07A6BE"/><path d="M-310.5,-200L-310.5,8.5A310.5,67.5 0 0 0 310.5,8.5L310.5,-200Z" fill="#07A4C1"/><path d="M-311.1,-200L-311.1,4.8A311.1,66.2 0 0 0 311.1,4.8L311.1,-200Z" fill="#08A2C4"/><path d="M-311.8,-200L-311.8,1.1A311.8,64.9 0 0 0 311.8,1.1L311.8,-200Z" fill="#08A0C7"/><path d="M-312.5,-200L-312.5,-2.6A312.5,63.6 0 0 0 312.5,-2.6L312.5,-200Z" fill="#08A0C8"/><path d="M-313.1,-200L-313.1,-6.3A313.1,62.3 0 0 0 313.1,-6.3L313.1,-200Z" fill="#08A0C8"/><path d="M-313.8,-200L-313.8,-10.0A313.8,61.0 0 0 0 313.8,-10.0L313.8,-200Z" fill="#08A0C8"/><path d="M-314.5,-200L-314.5,-13.7A314.5,59.7 0 0 0 314.5,-13.7L314.5,-200Z" fill="#08A0C8"/><path d="M-315.2,-200L-315.2,-17.4A315.2,58.4 0 0 0 315.2,-17.4L315.2,-200Z" fill="#08A0C8"/><path d="M-315.8,-200L-315.8,-21.1A315.8,57.1 0 0 0 315.8,-21.1L315.8,-200Z" fill="#08A0C8"/><path d="M-316.5,-200L-316.5,-24.8A316.5,55.8 0 0 0 316.5,-24.8L316.5,-200Z" fill="#08A0C8"/><path d="M-317.2,-200L-317.2,-28.4A317.2,54.4 0 0 0 317.2,-28.4L317.2,-200Z" fill="#08A0C8"/><path d="M-317.8,-200L-317.8,-32.1A317.8,53.1 0 0 0 317.8,-32.1L317.8,-200Z" fill="#08A0C8"/><path d="M-318.5,-200L-318.5,-35.8A318.5,51.8 0 0 0 318.5,-35.8L318.5,-200Z" fill="#08A0C8"/><path d="M-319.2,-200L-319.2,-39.5A319.2,50.5 0 0 0 319.2,-39.5L319.2,-200Z" fill="#08A0C8"/><path d="M-319.9,-200L-319.9,-43.2A319.9,49.2 0 0 0 319.9,-43.2L319.9,-200Z" fill="#08A1C6"/><path d="M-320.5,-200L-320.5,-46.9A320.5,47.9 0 0 0 320.5,-46.9L320.5,-200Z" fill="#08A3C3"/><path d="M-321.2,-200L-321.2,-50.6A321.2,46.6 0 0 0 321.2,-50.6L321.2,-200Z" fill="#07A4C1"/><path d="M-321.9,-200L-321.9,-54.3A321.9,45.3 0 0 0 321.9,-54.3L321.9,-200Z" fill="#07A9B9"/><path d="M-322.0,-200L-322.0,-59.0A322.0,45.0 0 0 0 322.0,-59.0L322.0,-200Z" fill="#06AEB1"/><path d="M-322.0,-200L-322.0,-64.0A322.0,45.0 0 0 0 322.0,-64.0L322.0,-200Z" fill="#05B3A9"/><path d="M-322.0,-200L-322.0,-69.0A322.0,45.0 0 0 0 322.0,-69.0L322.0,-200Z" fill="#04B8A0"/><path d="M-322.0,-200L-322.0,-74.0A322.0,45.0 0 0 0 322.0,-74.0L322.0,-200Z" fill="#05C094"/><path d="M-322.0,-200L-322.0,-79.0A322.0,45.0 0 0 0 322.0,-79.0L322.0,-200Z" fill="#06C888"/><path d="M-322.0,-200L-322.0,-84.0A322.0,45.0 0 0 0 322.0,-84.0L322.0,-200Z" fill="#07D07C"/><path d="M-322.0,-200L-322.0,-89.0A322.0,45.0 0 0 0 322.0,-89.0L322.0,-200Z" fill="#08D673"/><path d="M-322.0,-200L-322.0,-94.0A322.0,45.0 0 0 0 322.0,-94.0L322.0,-200Z" fill="#0BDB6A"/><path d="M-322.0,-200L-322.0,-99.0A322.0,45.0 0 0 0 322.0,-99.0L322.0,-200Z" fill="#11E15F"/><path d="M-322.0,-200L-322.0,-104.0A322.0,45.0 0 0 0 322.0,-104.0L322.0,-200Z" fill="#12E25C"/><path d="M-322.0,-200L-322.0,-109.0A322.0,45.0 0 0 0 322.0,-109.0L322.0,-200Z" fill="#13E35A"/><path d="M-322.0,-200L-322.0,-114.0A322.0,45.0 0 0 0 322.0,-114.0L322.0,-200Z" fill="#13E359"/><path d="M-322.0,-200L-322.0,-119.0A322.0,45.0 0 0 0 322.0,-119.0L322.0,-200Z" fill="#14E458"/><path d="M-322.0,-200L-322.0,-124.0A322.0,45.0 0 0 0 322.0,-124.0L322.0,-200Z" fill="#15E557"/></g>
<path d="M-310,130V-96A340,46 0 0 0 310,-96V130Z" fill="url(#sda)" filter="url(#b6)"/>
<!--WALLX_a-->
<g filter="url(#b2)"><path d="M-213,-118 C-150,-150 150,-150 213,-118 L213,-104 C190,-92 120,-73 0,-73 C-120,-73 -190,-92 -213,-104Z" fill="url(#ha)"/><path d="M-213,-118 C-150,-150 150,-150 213,-118 L213,-104 C190,-92 120,-73 0,-73 C-120,-73 -190,-92 -213,-104Z" fill="url(#hsa)"/></g>
<!--INNER_a-->
</g>
<path d="M-300,-67A300,85 0 0 1 300,-67L300,66A300,88 0 0 1 -300,66Z" fill="none" stroke="#0690D8" stroke-width="2" stroke-opacity="0.45" filter="url(#b1)"/>
</g>
<g transform="translate(1570,320)">
<rect x="-318" y="-41" width="30" height="83" fill="url(#pbL)" filter="url(#b2)"/>
<rect x="290" y="-43" width="31" height="88" fill="url(#pbR)" filter="url(#b2)"/>
</g>
<g transform="translate(1570,320)">
<path d="M-300,-67A300,85 0 0 1 300,-67L300,66A300,88 0 0 1 -300,66Z" fill="#0690D8" stroke="#0690D8" stroke-width="3" stroke-opacity="0.6" filter="url(#b1)"/>
<g clip-path="url(#tclip)">
<g filter="url(#b4)"><path d="M-300.0,-200L-300.0,68.0A300.0,88.0 0 0 0 300.0,68.0L300.0,-200Z" fill="#12E25D"/><path d="M-300.4,-200L-300.4,63.8A300.4,87.2 0 0 0 300.4,63.8L300.4,-200Z" fill="#0FDF61"/><path d="M-301.1,-200L-301.1,60.1A301.1,85.9 0 0 0 301.1,60.1L301.1,-200Z" fill="#0DDD66"/><path d="M-301.7,-200L-301.7,56.4A301.7,84.6 0 0 0 301.7,56.4L301.7,-200Z" fill="#0ADA6B"/><path d="M-302.4,-200L-302.4,52.7A302.4,83.3 0 0 0 302.4,52.7L302.4,-200Z" fill="#08D674"/><path d="M-303.1,-200L-303.1,49.0A303.1,82.0 0 0 0 303.1,49.0L303.1,-200Z" fill="#07D17B"/><path d="M-303.8,-200L-303.8,45.3A303.8,80.7 0 0 0 303.8,45.3L303.8,-200Z" fill="#07CC82"/><path d="M-304.4,-200L-304.4,41.7A304.4,79.3 0 0 0 304.4,41.7L304.4,-200Z" fill="#06C68B"/><path d="M-305.1,-200L-305.1,38.0A305.1,78.0 0 0 0 305.1,38.0L305.1,-200Z" fill="#05C094"/><path d="M-305.8,-200L-305.8,34.3A305.8,76.7 0 0 0 305.8,34.3L305.8,-200Z" fill="#04B99E"/><path d="M-306.4,-200L-306.4,30.6A306.4,75.4 0 0 0 306.4,30.6L306.4,-200Z" fill="#05B5A5"/><path d="M-307.1,-200L-307.1,26.9A307.1,74.1 0 0 0 307.1,26.9L307.1,-200Z" fill="#05B1AC"/><path d="M-307.8,-200L-307.8,23.2A307.8,72.8 0 0 0 307.8,23.2L307.8,-200Z" fill="#06ADB3"/><path d="M-308.5,-200L-308.5,19.5A308.5,71.5 0 0 0 308.5,19.5L308.5,-200Z" fill="#06ABB6"/><path d="M-309.1,-200L-309.1,15.8A309.1,70.2 0 0 0 309.1,15.8L309.1,-200Z" fill="#06AAB8"/><path d="M-309.8,-200L-309.8,12.1A309.8,68.9 0 0 0 309.8,12.1L309.8,-200Z" fill="#07A9BA"/><path d="M-310.5,-200L-310.5,8.5A310.5,67.5 0 0 0 310.5,8.5L310.5,-200Z" fill="#06AAB8"/><path d="M-311.1,-200L-311.1,4.8A311.1,66.2 0 0 0 311.1,4.8L311.1,-200Z" fill="#06ABB6"/><path d="M-311.8,-200L-311.8,1.1A311.8,64.9 0 0 0 311.8,1.1L311.8,-200Z" fill="#06ADB3"/><path d="M-312.5,-200L-312.5,-2.6A312.5,63.6 0 0 0 312.5,-2.6L312.5,-200Z" fill="#06AEB0"/><path d="M-313.1,-200L-313.1,-6.3A313.1,62.3 0 0 0 313.1,-6.3L313.1,-200Z" fill="#06AFAF"/><path d="M-313.8,-200L-313.8,-10.0A313.8,61.0 0 0 0 313.8,-10.0L313.8,-200Z" fill="#05AFAE"/><path d="M-314.5,-200L-314.5,-13.7A314.5,59.7 0 0 0 314.5,-13.7L314.5,-200Z" fill="#05B0AD"/><path d="M-315.2,-200L-315.2,-17.4A315.2,58.4 0 0 0 315.2,-17.4L315.2,-200Z" fill="#05B1AC"/><path d="M-315.8,-200L-315.8,-21.1A315.8,57.1 0 0 0 315.8,-21.1L315.8,-200Z" fill="#05B0AE"/><path d="M-316.5,-200L-316.5,-24.8A316.5,55.8 0 0 0 316.5,-24.8L316.5,-200Z" fill="#06AFB0"/><path d="M-317.2,-200L-317.2,-28.4A317.2,54.4 0 0 0 317.2,-28.4L317.2,-200Z" fill="#06ADB2"/><path d="M-317.8,-200L-317.8,-32.1A317.8,53.1 0 0 0 317.8,-32.1L317.8,-200Z" fill="#06ACB4"/><path d="M-318.5,-200L-318.5,-35.8A318.5,51.8 0 0 0 318.5,-35.8L318.5,-200Z" fill="#06ACB4"/><path d="M-319.2,-200L-319.2,-39.5A319.2,50.5 0 0 0 319.2,-39.5L319.2,-200Z" fill="#06ACB3"/><path d="M-319.9,-200L-319.9,-43.2A319.9,49.2 0 0 0 319.9,-43.2L319.9,-200Z" fill="#06ADB3"/><path d="M-320.5,-200L-320.5,-46.9A320.5,47.9 0 0 0 320.5,-46.9L320.5,-200Z" fill="#06ADB3"/><path d="M-321.2,-200L-321.2,-50.6A321.2,46.6 0 0 0 321.2,-50.6L321.2,-200Z" fill="#06ADB2"/><path d="M-321.9,-200L-321.9,-54.3A321.9,45.3 0 0 0 321.9,-54.3L321.9,-200Z" fill="#06AEB0"/><path d="M-322.0,-200L-322.0,-59.0A322.0,45.0 0 0 0 322.0,-59.0L322.0,-200Z" fill="#05B3A9"/><path d="M-322.0,-200L-322.0,-64.0A322.0,45.0 0 0 0 322.0,-64.0L322.0,-200Z" fill="#04B8A1"/><path d="M-322.0,-200L-322.0,-69.0A322.0,45.0 0 0 0 322.0,-69.0L322.0,-200Z" fill="#05BF96"/><path d="M-322.0,-200L-322.0,-74.0A322.0,45.0 0 0 0 322.0,-74.0L322.0,-200Z" fill="#06C888"/><path d="M-322.0,-200L-322.0,-79.0A322.0,45.0 0 0 0 322.0,-79.0L322.0,-200Z" fill="#07D17A"/><path d="M-322.0,-200L-322.0,-84.0A322.0,45.0 0 0 0 322.0,-84.0L322.0,-200Z" fill="#08D871"/><path d="M-322.0,-200L-322.0,-89.0A322.0,45.0 0 0 0 322.0,-89.0L322.0,-200Z" fill="#0CDC68"/><path d="M-322.0,-200L-322.0,-94.0A322.0,45.0 0 0 0 322.0,-94.0L322.0,-200Z" fill="#11E15F"/><path d="M-322.0,-200L-322.0,-99.0A322.0,45.0 0 0 0 322.0,-99.0L322.0,-200Z" fill="#12E25C"/><path d="M-322.0,-200L-322.0,-104.0A322.0,45.0 0 0 0 322.0,-104.0L322.0,-200Z" fill="#13E35B"/><path d="M-322.0,-200L-322.0,-109.0A322.0,45.0 0 0 0 322.0,-109.0L322.0,-200Z" fill="#13E35A"/><path d="M-322.0,-200L-322.0,-114.0A322.0,45.0 0 0 0 322.0,-114.0L322.0,-200Z" fill="#14E459"/><path d="M-322.0,-200L-322.0,-119.0A322.0,45.0 0 0 0 322.0,-119.0L322.0,-200Z" fill="#14E458"/><path d="M-322.0,-200L-322.0,-124.0A322.0,45.0 0 0 0 322.0,-124.0L322.0,-200Z" fill="#15E557"/></g>
<path d="M-310,130V-96A340,46 0 0 0 310,-96V130Z" fill="url(#sdb)" filter="url(#b6)"/>
<g fill="none" filter="url(#b4)"><path d="M-322,-25A322,49 0 0 0 322,-25" stroke="url(#ub)" stroke-width="26"/><path d="M-322,30A322,49 0 0 0 322,30" stroke="url(#bb)" stroke-width="17"/><path d="M-322,3A322,49 0 0 0 322,3" stroke="url(#gb)" stroke-width="22"/></g><ellipse cx="266" cy="14" rx="58" ry="50" fill="#0690D8" opacity="0.85" filter="url(#b14)"/>
<!--WALLX_b-->
<g filter="url(#b2)"><path d="M-213,-118 C-150,-150 150,-150 213,-118 L213,-104 C190,-92 120,-73 0,-73 C-120,-73 -190,-92 -213,-104Z" fill="url(#hb)"/><path d="M-213,-118 C-150,-150 150,-150 213,-118 L213,-104 C190,-92 120,-73 0,-73 C-120,-73 -190,-92 -213,-104Z" fill="url(#hsb)"/></g>
<!--INNER_b-->
</g>
<path d="M-300,-67A300,85 0 0 1 300,-67L300,66A300,88 0 0 1 -300,66Z" fill="none" stroke="#0690D8" stroke-width="2" stroke-opacity="0.45" filter="url(#b1)"/>
</g>
<g transform="translate(514,1062)">
<path d="M-316,-14L-292,-20L-292,34L-316,28Z" fill="url(#pcL)" filter="url(#b2)" opacity="0.85"/>
<path d="M292,-36L319,-28L319,16L292,2Z" fill="#5090E0" filter="url(#b2)" opacity="0.85"/>
</g>
<g transform="translate(514,1062) translate(1.5,0) scale(0.992,0.978)">
<path d="M-300,-67A300,85 0 0 1 300,-67L300,66A300,88 0 0 1 -300,66Z" fill="#58B4D2" stroke="#58B4D2" stroke-width="3" stroke-opacity="0.6" filter="url(#b1)"/>
<g clip-path="url(#tclip)">
<g filter="url(#b4)"><path d="M-300.0,-200L-300.0,68.0A300.0,88.0 0 0 0 300.0,68.0L300.0,-200Z" fill="#04BB9B"/><path d="M-300.4,-200L-300.4,63.8A300.4,87.2 0 0 0 300.4,63.8L300.4,-200Z" fill="#04B8A0"/><path d="M-301.1,-200L-301.1,60.1A301.1,85.9 0 0 0 301.1,60.1L301.1,-200Z" fill="#05B3A8"/><path d="M-301.7,-200L-301.7,56.4A301.7,84.6 0 0 0 301.7,56.4L301.7,-200Z" fill="#06AEB0"/><path d="M-302.4,-200L-302.4,52.7A302.4,83.3 0 0 0 302.4,52.7L302.4,-200Z" fill="#06A9B9"/><path d="M-303.1,-200L-303.1,49.0A303.1,82.0 0 0 0 303.1,49.0L303.1,-200Z" fill="#07A4C2"/><path d="M-303.8,-200L-303.8,45.3A303.8,80.7 0 0 0 303.8,45.3L303.8,-200Z" fill="#089FC9"/><path d="M-304.4,-200L-304.4,41.7A304.4,79.3 0 0 0 304.4,41.7L304.4,-200Z" fill="#079ACE"/><path d="M-305.1,-200L-305.1,38.0A305.1,78.0 0 0 0 305.1,38.0L305.1,-200Z" fill="#0795D3"/><path d="M-305.8,-200L-305.8,34.3A305.8,76.7 0 0 0 305.8,34.3L305.8,-200Z" fill="#0694D4"/><path d="M-306.4,-200L-306.4,30.6A306.4,75.4 0 0 0 306.4,30.6L306.4,-200Z" fill="#0692D6"/><path d="M-307.1,-200L-307.1,26.9A307.1,74.1 0 0 0 307.1,26.9L307.1,-200Z" fill="#0690D8"/><path d="M-307.8,-200L-307.8,23.2A307.8,72.8 0 0 0 307.8,23.2L307.8,-200Z" fill="#068FD9"/><path d="M-308.5,-200L-308.5,19.5A308.5,71.5 0 0 0 308.5,19.5L308.5,-200Z" fill="#068EDA"/><path d="M-309.1,-200L-309.1,15.8A309.1,70.2 0 0 0 309.1,15.8L309.1,-200Z" fill="#068DDB"/><path d="M-309.8,-200L-309.8,12.1A309.8,68.9 0 0 0 309.8,12.1L309.8,-200Z" fill="#068DDB"/><path d="M-310.5,-200L-310.5,8.5A310.5,67.5 0 0 0 310.5,8.5L310.5,-200Z" fill="#058CDC"/><path d="M-311.1,-200L-311.1,4.8A311.1,66.2 0 0 0 311.1,4.8L311.1,-200Z" fill="#068DDB"/><path d="M-311.8,-200L-311.8,1.1A311.8,64.9 0 0 0 311.8,1.1L311.8,-200Z" fill="#068EDA"/><path d="M-312.5,-200L-312.5,-2.6A312.5,63.6 0 0 0 312.5,-2.6L312.5,-200Z" fill="#068FD9"/><path d="M-313.1,-200L-313.1,-6.3A313.1,62.3 0 0 0 313.1,-6.3L313.1,-200Z" fill="#0690D8"/><path d="M-313.8,-200L-313.8,-10.0A313.8,61.0 0 0 0 313.8,-10.0L313.8,-200Z" fill="#0690D8"/><path d="M-314.5,-200L-314.5,-13.7A314.5,59.7 0 0 0 314.5,-13.7L314.5,-200Z" fill="#0690D8"/><path d="M-315.2,-200L-315.2,-17.4A315.2,58.4 0 0 0 315.2,-17.4L315.2,-200Z" fill="#0690D8"/><path d="M-315.8,-200L-315.8,-21.1A315.8,57.1 0 0 0 315.8,-21.1L315.8,-200Z" fill="#0691D7"/><path d="M-316.5,-200L-316.5,-24.8A316.5,55.8 0 0 0 316.5,-24.8L316.5,-200Z" fill="#0691D7"/><path d="M-317.2,-200L-317.2,-28.4A317.2,54.4 0 0 0 317.2,-28.4L317.2,-200Z" fill="#0691D7"/><path d="M-317.8,-200L-317.8,-32.1A317.8,53.1 0 0 0 317.8,-32.1L317.8,-200Z" fill="#0691D7"/><path d="M-318.5,-200L-318.5,-35.8A318.5,51.8 0 0 0 318.5,-35.8L318.5,-200Z" fill="#0691D7"/><path d="M-319.2,-200L-319.2,-39.5A319.2,50.5 0 0 0 319.2,-39.5L319.2,-200Z" fill="#0691D7"/><path d="M-319.9,-200L-319.9,-43.2A319.9,49.2 0 0 0 319.9,-43.2L319.9,-200Z" fill="#0693D5"/><path d="M-320.5,-200L-320.5,-46.9A320.5,47.9 0 0 0 320.5,-46.9L320.5,-200Z" fill="#0794D4"/><path d="M-321.2,-200L-321.2,-50.6A321.2,46.6 0 0 0 321.2,-50.6L321.2,-200Z" fill="#0796D2"/><path d="M-321.9,-200L-321.9,-54.3A321.9,45.3 0 0 0 321.9,-54.3L321.9,-200Z" fill="#0797D1"/><path d="M-322.0,-200L-322.0,-59.0A322.0,45.0 0 0 0 322.0,-59.0L322.0,-200Z" fill="#079ACE"/><path d="M-322.0,-200L-322.0,-64.0A322.0,45.0 0 0 0 322.0,-64.0L322.0,-200Z" fill="#089DCB"/><path d="M-322.0,-200L-322.0,-69.0A322.0,45.0 0 0 0 322.0,-69.0L322.0,-200Z" fill="#08A0C8"/><path d="M-322.0,-200L-322.0,-74.0A322.0,45.0 0 0 0 322.0,-74.0L322.0,-200Z" fill="#07A3C3"/><path d="M-322.0,-200L-322.0,-79.0A322.0,45.0 0 0 0 322.0,-79.0L322.0,-200Z" fill="#07A8BB"/><path d="M-322.0,-200L-322.0,-84.0A322.0,45.0 0 0 0 322.0,-84.0L322.0,-200Z" fill="#06ADB2"/><path d="M-322.0,-200L-322.0,-89.0A322.0,45.0 0 0 0 322.0,-89.0L322.0,-200Z" fill="#05B3A9"/><path d="M-322.0,-200L-322.0,-94.0A322.0,45.0 0 0 0 322.0,-94.0L322.0,-200Z" fill="#04B8A0"/><path d="M-322.0,-200L-322.0,-99.0A322.0,45.0 0 0 0 322.0,-99.0L322.0,-200Z" fill="#04BB9B"/><path d="M-322.0,-200L-322.0,-104.0A322.0,45.0 0 0 0 322.0,-104.0L322.0,-200Z" fill="#05BF96"/><path d="M-322.0,-200L-322.0,-109.0A322.0,45.0 0 0 0 322.0,-109.0L322.0,-200Z" fill="#05C192"/><path d="M-322.0,-200L-322.0,-114.0A322.0,45.0 0 0 0 322.0,-114.0L322.0,-200Z" fill="#05C291"/><path d="M-322.0,-200L-322.0,-119.0A322.0,45.0 0 0 0 322.0,-119.0L322.0,-200Z" fill="#05C38F"/><path d="M-322.0,-200L-322.0,-124.0A322.0,45.0 0 0 0 322.0,-124.0L322.0,-200Z" fill="#06C48D"/></g>
<path d="M-310,130V-96A340,46 0 0 0 310,-96V130Z" fill="url(#sdc)" filter="url(#b6)"/>
<g fill="none" filter="url(#b6)"><path d="M-310,-18C-220,4 -110,40 0,45C90,47 190,32 310,-8" stroke="url(#c1)" stroke-width="32"/><path d="M-310,30C-230,40 -150,47 -50,52" stroke="url(#c2)" stroke-width="11"/></g><g filter="url(#b8)" opacity="0.9"><rect x="-300" y="-75" width="48" height="150" fill="#4A94E6"/><rect x="252" y="-70" width="50" height="150" fill="#4A94E6"/></g><g filter="url(#b14)" opacity="0.7"><ellipse cx="-205" cy="-25" rx="45" ry="20" fill="#0584E4"/><ellipse cx="-190" cy="70" rx="80" ry="18" fill="#0482E6"/><ellipse cx="215" cy="-32" rx="50" ry="20" fill="#0584E4"/><ellipse cx="205" cy="72" rx="70" ry="20" fill="#0482E6"/></g><g filter="url(#b4)"><path d="M-302,-44L-256,-44L-256,8L-302,-6Z" fill="#E6E8F0"/><path d="M254,-4L302,12L302,42L254,42Z" fill="#E6E8F0"/></g>
<!--WALLX_c-->
<g filter="url(#b2)"><path d="M-213,-118 C-150,-150 150,-150 213,-118 L213,-104 C190,-92 120,-73 0,-73 C-120,-73 -190,-92 -213,-104Z" fill="url(#hc)"/><path d="M-213,-118 C-150,-150 150,-150 213,-118 L213,-104 C190,-92 120,-73 0,-73 C-120,-73 -190,-92 -213,-104Z" fill="url(#hsc)"/></g>
<!--INNER_c-->
</g>
<path d="M-300,-67A300,85 0 0 1 300,-67L300,66A300,88 0 0 1 -300,66Z" fill="none" stroke="#58B4D2" stroke-width="2" stroke-opacity="0.45" filter="url(#b1)"/>
</g>
<g transform="translate(1570,1062)">
<g fill="none" filter="url(#b1)">
<path d="M-15.9,-304.1A304.5,304.5 0 0 1 28.6,-303.2" stroke="#64B8CD" stroke-width="19.0" opacity="1.00"/>
<path d="M25.4,-303.4A304.5,304.5 0 0 1 69.4,-296.5" stroke="#68B9CE" stroke-width="19.0" opacity="1.00"/>
<path d="M66.3,-297.2A304.5,304.5 0 0 1 108.9,-284.4" stroke="#6CBAD0" stroke-width="19.0" opacity="1.00"/>
<path d="M105.9,-285.5A304.5,304.5 0 0 1 146.4,-267.0" stroke="#70BAD1" stroke-width="19.0" opacity="1.00"/>
<path d="M143.6,-268.5A304.5,304.5 0 0 1 181.2,-244.7" stroke="#74BBD2" stroke-width="19.0" opacity="1.00"/>
<path d="M178.7,-246.6A304.5,304.5 0 0 1 212.7,-217.9" stroke="#78BBD4" stroke-width="19.0" opacity="1.00"/>
<path d="M210.4,-220.1A304.5,304.5 0 0 1 240.3,-187.0" stroke="#7CBCD5" stroke-width="19.0" opacity="1.00"/>
<path d="M238.3,-189.6A304.5,304.5 0 0 1 263.4,-152.8" stroke="#80BDD7" stroke-width="19.0" opacity="1.00"/>
<path d="M261.8,-155.5A304.5,304.5 0 0 1 281.7,-115.7" stroke="#8BC0D9" stroke-width="19.0" opacity="1.00"/>
<path d="M280.4,-118.6A304.5,304.5 0 0 1 294.7,-76.5" stroke="#97C4DC" stroke-width="19.0" opacity="1.00"/>
<path d="M293.9,-79.5A304.5,304.5 0 0 1 302.4,-35.8" stroke="#A3C8DE" stroke-width="19.0" opacity="0.92"/>
<path d="M302.0,-39.0A304.5,304.5 0 0 1 304.5,5.5" stroke="#B0CCE1" stroke-width="19.0" opacity="0.82"/>
<path d="M304.5,2.3A304.5,304.5 0 0 1 300.9,46.7" stroke="#BCD0E4" stroke-width="19.0" opacity="0.71"/>
<path d="M301.4,43.5A304.5,304.5 0 0 1 291.8,87.0" stroke="#C8D4E7" stroke-width="15.1" opacity="0.60"/>
<path d="M21.2,303.8A304.5,304.5 0 0 1 -22.9,303.6" stroke="#64B8CD" stroke-width="19.0" opacity="1.00"/>
<path d="M-19.7,303.9A304.5,304.5 0 0 1 -63.5,297.8" stroke="#68B9CE" stroke-width="19.0" opacity="1.00"/>
<path d="M-60.3,298.5A304.5,304.5 0 0 1 -102.9,286.6" stroke="#6CBAD0" stroke-width="19.0" opacity="1.00"/>
<path d="M-99.9,287.7A304.5,304.5 0 0 1 -140.4,270.2" stroke="#70BAD1" stroke-width="19.0" opacity="1.00"/>
<path d="M-137.6,271.7A304.5,304.5 0 0 1 -175.4,248.9" stroke="#74BBD2" stroke-width="19.0" opacity="1.00"/>
<path d="M-172.8,250.7A304.5,304.5 0 0 1 -207.2,223.1" stroke="#78BBD4" stroke-width="19.0" opacity="1.00"/>
<path d="M-204.9,225.3A304.5,304.5 0 0 1 -235.3,193.3" stroke="#7CBCD5" stroke-width="19.0" opacity="1.00"/>
<path d="M-233.3,195.7A304.5,304.5 0 0 1 -259.1,159.9" stroke="#80BDD7" stroke-width="19.0" opacity="1.00"/>
<path d="M-257.4,162.6A304.5,304.5 0 0 1 -278.2,123.7" stroke="#8BC0D9" stroke-width="19.0" opacity="1.00"/>
<path d="M-276.9,126.6A304.5,304.5 0 0 1 -292.3,85.2" stroke="#97C4DC" stroke-width="19.0" opacity="1.00"/>
<path d="M-291.4,88.3A304.5,304.5 0 0 1 -301.1,45.2" stroke="#A3C8DE" stroke-width="19.0" opacity="0.92"/>
<path d="M-300.6,48.4A304.5,304.5 0 0 1 -304.5,4.4" stroke="#B0CCE1" stroke-width="19.0" opacity="0.82"/>
<path d="M-304.4,7.6A304.5,304.5 0 0 1 -302.3,-36.5" stroke="#BCD0E4" stroke-width="19.0" opacity="0.71"/>
<path d="M-302.7,-33.3A304.5,304.5 0 0 1 -294.7,-76.8" stroke="#C8D4E7" stroke-width="15.1" opacity="0.60"/>
</g>
<circle r="297" fill="url(#dg)" filter="url(#b1)"/>
<g fill="none" filter="url(#b8)">
<path d="M-148.0,-211.3A258,258 0 0 1 249.2,66.8" stroke="#2090D8" stroke-width="34" opacity="0.5"/>
</g>
<g fill="none" filter="url(#b1)"><circle r="17" stroke="#FF9330" stroke-width="2.8" opacity="0.22"/><circle r="25" stroke="#FF9330" stroke-width="2.8" opacity="0.26"/><circle r="33" stroke="#FF9330" stroke-width="2.8" opacity="0.30"/><circle r="41" stroke="#FF9330" stroke-width="2.8" opacity="0.36"/><circle r="49" stroke="#FF9330" stroke-width="2.8" opacity="0.42"/><circle r="57" stroke="#FF9330" stroke-width="2.8" opacity="0.46"/><circle r="65" stroke="#FF9330" stroke-width="2.8" opacity="0.40"/><circle r="73" stroke="#FFB830" stroke-width="2.8" opacity="0.30"/><circle r="81" stroke="#FFB830" stroke-width="2.8" opacity="0.25"/><circle r="89" stroke="#FFB830" stroke-width="2.8" opacity="0.20"/><circle r="97" stroke="#FFB830" stroke-width="2.8" opacity="0.15"/></g>
<path d="M-5,-12.5H5L12.5,-5V5L5,12.5H-5L-12.5,5V-5Z" fill="#E2E2E2"/>
</g>
<g transform="translate(514,320)">
<path d="M-14,0H14M0,-14V14" stroke="#F01010" stroke-width="2" fill="none"/>
<g fill="none" stroke="#0000CD" stroke-width="5.2" stroke-linecap="round" stroke-linejoin="round">
<path d="M-310,-28.5C-372,-12 -372,8 -322,23"/>
<path d="M-308.5,28L-331.5,12L-326.7,23.4L-335.5,31.5Z" fill="#0000CD" stroke-width="3.4"/>
</g>
<g fill="none" stroke="#DD0000" stroke-width="5.2" stroke-linecap="round" stroke-linejoin="round">
<path d="M310,28.5C372,12 372,-8 322,-23"/>
<path d="M308.5,-28L331.5,-12L326.7,-23.4L335.5,-31.5Z" fill="#DD0000" stroke-width="3.4"/>
</g>
<path d="M239.3,-199.3" stroke="#000"/>
<path d="M239.3,-199.3L276.7,-275.5" stroke="#000" stroke-width="2" fill="none"/><path d="M283.3,-289.0L281.5,-260.9L275.2,-272.4L262.2,-270.4Z" fill="#000"/>
<path d="M239.3,-199.3L314.5,-162.1" stroke="#000" stroke-width="2" fill="none"/><path d="M327.9,-155.4L299.9,-157.4L311.4,-163.6L309.4,-176.5Z" fill="#000"/>
<text x="239.8" y="-258.2" class="en" textLength="17" lengthAdjust="spacingAndGlyphs">E</text>
<text x="319.7" y="-178.4" class="en" textLength="19" lengthAdjust="spacingAndGlyphs">N</text>
</g>
<g transform="translate(1570,320)">
<path d="M-14,0H14M0,-14V14" stroke="#F01010" stroke-width="2" fill="none"/>
<g fill="none" stroke="#0000CD" stroke-width="5.2" stroke-linecap="round" stroke-linejoin="round">
<path d="M-310,-28.5C-372,-12 -372,8 -322,23"/>
<path d="M-308.5,28L-331.5,12L-326.7,23.4L-335.5,31.5Z" fill="#0000CD" stroke-width="3.4"/>
</g>
<g fill="none" stroke="#DD0000" stroke-width="5.2" stroke-linecap="round" stroke-linejoin="round">
<path d="M310,28.5C372,12 372,-8 322,-23"/>
<path d="M308.5,-28L331.5,-12L326.7,-23.4L335.5,-31.5Z" fill="#DD0000" stroke-width="3.4"/>
</g>
<path d="M239.3,-199.3" stroke="#000"/>
<path d="M239.3,-199.3L276.7,-275.5" stroke="#000" stroke-width="2" fill="none"/><path d="M283.3,-289.0L281.5,-260.9L275.2,-272.4L262.2,-270.4Z" fill="#000"/>
<path d="M239.3,-199.3L314.5,-162.1" stroke="#000" stroke-width="2" fill="none"/><path d="M327.9,-155.4L299.9,-157.4L311.4,-163.6L309.4,-176.5Z" fill="#000"/>
<text x="239.8" y="-258.2" class="en" textLength="17" lengthAdjust="spacingAndGlyphs">E</text>
<text x="319.7" y="-178.4" class="en" textLength="19" lengthAdjust="spacingAndGlyphs">N</text>
</g>
<g transform="translate(514,1062)">
<path d="M-14,0H14M0,-14V14" stroke="#F01010" stroke-width="2" fill="none"/>
<g fill="none" stroke="#0000CD" stroke-width="5.2" stroke-linecap="round" stroke-linejoin="round">
<path d="M-310,-28.5C-372,-12 -372,8 -322,23"/>
<path d="M-308.5,28L-331.5,12L-326.7,23.4L-335.5,31.5Z" fill="#0000CD" stroke-width="3.4"/>
</g>
<g fill="none" stroke="#DD0000" stroke-width="5.2" stroke-linecap="round" stroke-linejoin="round">
<path d="M310,28.5C372,12 372,-8 322,-23"/>
<path d="M308.5,-28L331.5,-12L326.7,-23.4L335.5,-31.5Z" fill="#DD0000" stroke-width="3.4"/>
</g>
<path d="M239.3,-199.3" stroke="#000"/>
<path d="M239.3,-199.3L276.7,-275.5" stroke="#000" stroke-width="2" fill="none"/><path d="M283.3,-289.0L281.5,-260.9L275.2,-272.4L262.2,-270.4Z" fill="#000"/>
<path d="M239.3,-199.3L314.5,-162.1" stroke="#000" stroke-width="2" fill="none"/><path d="M327.9,-155.4L299.9,-157.4L311.4,-163.6L309.4,-176.5Z" fill="#000"/>
<text x="239.8" y="-258.2" class="en" textLength="17" lengthAdjust="spacingAndGlyphs">E</text>
<text x="319.7" y="-178.4" class="en" textLength="19" lengthAdjust="spacingAndGlyphs">N</text>
</g>
<g transform="translate(1570,1062)">
<path d="M-14,0H14M0,-14V14" stroke="#FF1010" stroke-width="1.8" fill="none"/>
<path d="M0,0V-280" stroke="#000" stroke-width="2" fill="none"/>
<path d="M0.0,0.0L-218.2,209.6" stroke="#000" stroke-width="2" fill="none"/><path d="M-229.0,220.0L-217.7,194.3L-215.7,207.2L-202.8,209.7Z" fill="#000"/>
<g fill="none" stroke="#0000CD" stroke-width="6" stroke-linecap="round" stroke-linejoin="round">
<path d="M0.0,-60.4A60.4,60.4 0 0 0 -51.2,32.0"/>
<path d="M-43,42.5L-66.5,31L-55.2,29.2L-52,18.5Z" fill="#0000CD" stroke-width="3.5"/>
</g>
<g fill="none" stroke="#DD0000" stroke-width="5.4" stroke-linecap="round" stroke-linejoin="round">
<path d="M199.3,-237.5A310,310 0 0 0 -190.9,-244.3"/>
<path d="M-200.6,-235.3L-186,-259.5L-184.2,-248.1L-173,-244Z" fill="#DD0000" stroke-width="3.5"/>
</g>
<g fill="none" stroke="#0000CD" stroke-width="5.4" stroke-linecap="round" stroke-linejoin="round">
<path d="M-198.6,236.7A309,309 0 0 0 190.2,243.5"/>
<path d="M199.5,236L185,260L183.2,248.6L172,244.5Z" fill="#0000CD" stroke-width="3.5"/>
</g>
<text x="-94" y="-57" style="font-family:'Liberation Sans',sans-serif;font-style:italic;font-size:41px" fill="#000">ϕ</text>
<text x="-67" y="-48.5" style="font-family:'Liberation Sans',sans-serif;font-size:28.6px" fill="#000">0</text>
<text transform="translate(-197,160) rotate(-44)" class="lab" style="font-size:44px">R<tspan dx="-4" dy="14" style="font-size:31px">s</tspan></text>
</g>
</svg>
</body></html>
